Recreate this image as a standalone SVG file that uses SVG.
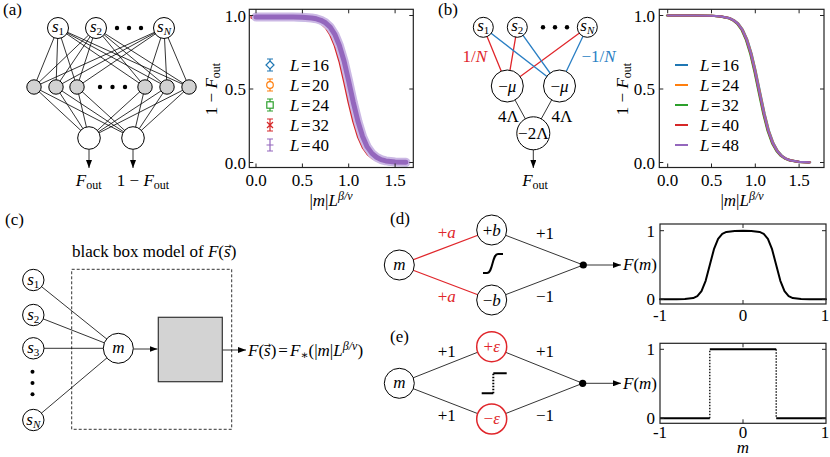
<svg xmlns="http://www.w3.org/2000/svg" xmlns:xlink="http://www.w3.org/1999/xlink" width="830" height="457" viewBox="0 0 830 457">
<style>
text{font-family:"Liberation Serif","DejaVu Serif",serif;font-size:17px;fill:#000}
.i{font-style:italic}
.c{text-anchor:middle}
.en{text-anchor:end}
.n{fill:#fff;stroke:#000;stroke-width:1}
.h{fill:#d2d2d2;stroke:#000;stroke-width:1}
.e{stroke:#000;stroke-width:0.8;fill:none}
.er{stroke:#e0262b;stroke-width:1.3;fill:none}
.eb{stroke:#2a7fc4;stroke-width:1.3;fill:none}
.ax{fill:none;stroke:#222;stroke-width:1.2}
.tk{stroke:#222;stroke-width:1;fill:none}
.red{fill:#e0262b}
.blu{fill:#2a7fc4}
.cv{fill:none;stroke-linejoin:round;stroke-linecap:round}
.vec{font-family:"DejaVu Sans",sans-serif;font-size:9px;text-anchor:middle}
</style>
<defs>
<marker id="ah" viewBox="0 0 8 6" refX="8" refY="3" markerWidth="8" markerHeight="6" markerUnits="userSpaceOnUse" orient="auto">
<path d="M0,0L8,3L0,6z" fill="#000"/>
</marker>
<path id="ca" d="M256,17 L274.5,17 L293.1,17.1 L302.4,17.3 L311.6,18 L316.3,18.8 L320.9,20.3 L325.5,22.8 L330.2,27.1 L334.8,34.3 L339.4,45.5 L344.1,61.3 L348.7,81.2 L353.3,102.4 L358,121.6 L362.6,136.6 L367.2,146.9 L371.9,153.4 L376.5,157.2 L381.1,159.6 L385.8,160.9 L395.1,162 L406,162.3"/>
<path id="cb" d="M667.7,15.5 L694,15.5 L711.5,15.75 L720.3,16.3 L729,18.1 L733.4,20.2 L737.8,23.7 L742.2,29.6 L746.5,39.2 L750.9,53.3 L755.3,72.1 L759.7,93.3 L764.1,114 L768.4,130.9 L772.8,143.1 L777.2,151 L781.6,155.9 L786,158.8 L790.3,160.4 L799.1,161.8 L809.6,162.3"/>
</defs>

<!-- panel labels -->
<text x="3" y="14.5">(a)</text>
<text x="438" y="15">(b)</text>
<text x="5" y="225">(c)</text>
<text x="390" y="223.5">(d)</text>
<text x="390" y="342">(e)</text>

<!-- ===== (a) network ===== -->
<g id="connectors-a">
<path class="e" d="M58,28L34,87M58,28L56,87M58,28L77,87M58,28L145,87M58,28L167,87M58,28L189,87
M96,28L34,87M96,28L56,87M96,28L77,87M96,28L145,87M96,28L167,87M96,28L189,87
M164,28L34,87M164,28L56,87M164,28L77,87M164,28L145,87M164,28L167,87M164,28L189,87
M34,87L89,138M34,87L133,138M56,87L89,138M56,87L133,138M77,87L89,138M77,87L133,138
M145,87L89,138M145,87L133,138M167,87L89,138M167,87L133,138M189,87L89,138M189,87L133,138"/>
<path class="e" stroke-width="1" d="M89,149.5V168" marker-end="url(#ah)"/>
<path class="e" stroke-width="1" d="M133,149.5V168" marker-end="url(#ah)"/>
</g>
<g id="a-s1"><circle class="n" cx="58" cy="28" r="10.5"/><text x="58" y="32" class="c"><tspan class="i">s</tspan><tspan font-size="11" dy="3">1</tspan></text></g>
<g id="a-s2"><circle class="n" cx="96" cy="28" r="10.5"/><text x="96" y="32" class="c"><tspan class="i">s</tspan><tspan font-size="11" dy="3">2</tspan></text></g>
<g id="a-dots"><circle cx="117" cy="28" r="2.2"/><circle cx="129" cy="28" r="2.2"/><circle cx="141" cy="28" r="2.2"/></g>
<g id="a-sN"><circle class="n" cx="164" cy="28" r="10.5"/><text x="164" y="32" class="c"><tspan class="i">s</tspan><tspan class="i" font-size="11" dy="3">N</tspan></text></g>
<g id="a-hidden">
<circle class="h" cx="34" cy="87" r="7.2"/><circle class="h" cx="56" cy="87" r="7.2"/><circle class="h" cx="77" cy="87" r="7.2"/>
<circle cx="100" cy="87" r="2.2"/><circle cx="112.5" cy="87" r="2.2"/><circle cx="125" cy="87" r="2.2"/>
<circle class="h" cx="145" cy="87" r="7.2"/><circle class="h" cx="167" cy="87" r="7.2"/><circle class="h" cx="189" cy="87" r="7.2"/>
</g>
<g id="a-out1"><circle class="n" cx="89" cy="138" r="11.3"/></g>
<g id="a-out2"><circle class="n" cx="133" cy="138" r="11.3"/></g>
<text x="88.7" y="186" class="c"><tspan class="i">F</tspan><tspan font-size="12" dy="3">out</tspan></text>
<text x="143" y="186" class="c">1 − <tspan class="i">F</tspan><tspan font-size="12" dy="3">out</tspan></text>

<!-- ===== (a) plot ===== -->
<g id="plot-a">
<use xlink:href="#ca" class="cv" stroke="#1f77b4" stroke-width="4" transform="translate(1,2)"/>
<use xlink:href="#ca" class="cv" stroke="#ff7f0e" stroke-width="4" transform="translate(1.5,1)"/>
<use xlink:href="#ca" class="cv" stroke="#2ca02c" stroke-width="4.5" transform="translate(-1.5,0.5)"/>
<use xlink:href="#ca" class="cv" stroke="#d62728" stroke-width="4.5" transform="translate(-3.5,0)"/>
<use xlink:href="#ca" class="cv" stroke="#cbb8e4" stroke-width="9"/>
<use xlink:href="#ca" class="cv" stroke="#9467bd" stroke-width="5"/>
<rect class="ax" x="249.3" y="9.3" width="164" height="158.2"/>
<path class="tk" d="M256,167.5v-4M302.4,167.5v-4M348.7,167.5v-4M395.1,167.5v-4M256,9.3v4M302.4,9.3v4M348.7,9.3v4M395.1,9.3v4M249.3,15.5h4M249.3,89h4M249.3,162.5h4M413.3,15.5h-4M413.3,89h-4M413.3,162.5h-4"/>
<text x="246" y="21.5" class="en">1.0</text>
<text x="246" y="95" class="en">0.5</text>
<text x="246" y="168.5" class="en">0.0</text>
<text x="256" y="186" class="c">0.0</text>
<text x="302.4" y="186" class="c">0.5</text>
<text x="348.7" y="186" class="c">1.0</text>
<text x="395.1" y="186" class="c">1.5</text>
<text x="331" y="205.5" class="c">|<tspan class="i">m</tspan>|<tspan class="i">L</tspan><tspan class="i" font-size="12" dy="-6">β/ν</tspan></text>
<text transform="translate(216.5,89) rotate(-90)" class="c">1 − <tspan class="i">F</tspan><tspan font-size="12" dy="3">out</tspan></text>
<!-- legend -->
<g fill="none" stroke-width="1.2">
<g stroke="#1f77b4"><path d="M270,59V71M267,59h6M267,71h6"/><path d="M270,61L274,65L270,69L266,65z" fill="#fff"/></g>
<g stroke="#ff7f0e"><path d="M270,79V91M267,79h6M267,91h6"/><circle cx="270" cy="85" r="3.3" fill="#fff"/></g>
<g stroke="#2ca02c"><path d="M270,99V111M267,99h6M267,111h6"/><rect x="266.8" y="101.8" width="6.4" height="6.4" fill="#fff"/></g>
<g stroke="#d62728"><path d="M270,119V131M267,119h6M267,131h6M267,122l6,6M273,122l-6,6"/></g>
<g stroke="#9467bd"><path d="M270,139V151M267,139h6M267,151h6M266.5,145h7"/></g>
</g>
<text x="290" y="71"><tspan class="i">L</tspan><tspan dx="1.5">=</tspan><tspan dx="1.5">16</tspan></text>
<text x="290" y="91"><tspan class="i">L</tspan><tspan dx="1.5">=</tspan><tspan dx="1.5">20</tspan></text>
<text x="290" y="111"><tspan class="i">L</tspan><tspan dx="1.5">=</tspan><tspan dx="1.5">24</tspan></text>
<text x="290" y="131"><tspan class="i">L</tspan><tspan dx="1.5">=</tspan><tspan dx="1.5">32</tspan></text>
<text x="290" y="151"><tspan class="i">L</tspan><tspan dx="1.5">=</tspan><tspan dx="1.5">40</tspan></text>
</g>

<!-- ===== (b) network ===== -->
<g id="connectors-b">
<path class="er" d="M483.3,27.3L507.3,86M517.3,27.3L507.3,86M587.3,27.3L507.3,86"/>
<path class="eb" d="M483.3,27.3L559.3,86M517.3,27.3L559.3,86M587.3,27.3L559.3,86"/>
<path class="e" stroke-width="1" d="M507.3,86L533.3,133.3M559.3,86L533.3,133.3"/>
<path class="e" stroke-width="1" d="M533.3,150V168" marker-end="url(#ah)"/>
</g>
<g id="b-s1"><circle class="n" cx="483.3" cy="27.3" r="10"/><text x="483.3" y="31.3" class="c"><tspan class="i">s</tspan><tspan font-size="11" dy="3">1</tspan></text></g>
<g id="b-s2"><circle class="n" cx="517.3" cy="27.3" r="10"/><text x="517.3" y="31.3" class="c"><tspan class="i">s</tspan><tspan font-size="11" dy="3">2</tspan></text></g>
<g id="b-dots"><circle cx="543" cy="27.3" r="2.2"/><circle cx="555" cy="27.3" r="2.2"/><circle cx="567" cy="27.3" r="2.2"/></g>
<g id="b-sN"><circle class="n" cx="587.3" cy="27.3" r="10"/><text x="587.3" y="31.3" class="c"><tspan class="i">s</tspan><tspan class="i" font-size="11" dy="3">N</tspan></text></g>
<g id="b-mu1"><circle class="n" cx="507.3" cy="86" r="16"/><text x="507.3" y="91.5" class="c">−<tspan class="i">μ</tspan></text></g>
<g id="b-mu2"><circle class="n" cx="559.5" cy="86" r="16"/><text x="559.5" y="91.5" class="c">−<tspan class="i">μ</tspan></text></g>
<g id="b-out"><circle class="n" cx="533.3" cy="133.3" r="16.5"/><text x="533.3" y="139" class="c">−2Λ</text></g>
<text x="487" y="61.5" class="en red">1/<tspan class="i">N</tspan></text>
<text x="581.5" y="61.5" class="blu">−1/<tspan class="i">N</tspan></text>
<text x="508.5" y="121.5" class="c">4Λ</text>
<text x="562" y="121.5" class="c">4Λ</text>
<text x="535" y="186" class="c"><tspan class="i">F</tspan><tspan font-size="12" dy="3">out</tspan></text>

<!-- ===== (b) plot ===== -->
<g id="plot-b">
<use xlink:href="#cb" class="cv" stroke="#1f77b4" stroke-width="2.2" transform="translate(0.6,0)"/>
<use xlink:href="#cb" class="cv" stroke="#ff7f0e" stroke-width="2.2" transform="translate(0.3,0)"/>
<use xlink:href="#cb" class="cv" stroke="#2ca02c" stroke-width="2.2" transform="translate(-0.8,0)"/>
<use xlink:href="#cb" class="cv" stroke="#d62728" stroke-width="2.2" transform="translate(-0.3,0)"/>
<use xlink:href="#cb" class="cv" stroke="#9467bd" stroke-width="2.2"/>
<rect class="ax" x="659.3" y="9.3" width="164.7" height="158.2"/>
<path class="tk" d="M667.7,167.5v-4M711.5,167.5v-4M755.3,167.5v-4M799.1,167.5v-4M667.7,9.3v4M711.5,9.3v4M755.3,9.3v4M799.1,9.3v4M659.3,15.5h4M659.3,89h4M659.3,162.5h4M824,15.5h-4M824,89h-4M824,162.5h-4"/>
<text x="655" y="21.5" class="en">1.0</text>
<text x="655" y="95" class="en">0.5</text>
<text x="655" y="168.5" class="en">0.0</text>
<text x="667.7" y="186" class="c">0.0</text>
<text x="711.5" y="186" class="c">0.5</text>
<text x="755.3" y="186" class="c">1.0</text>
<text x="799.1" y="186" class="c">1.5</text>
<text x="742" y="205.5" class="c">|<tspan class="i">m</tspan>|<tspan class="i">L</tspan><tspan class="i" font-size="12" dy="-6">β/ν</tspan></text>
<text transform="translate(628,89) rotate(-90)" class="c">1 − <tspan class="i">F</tspan><tspan font-size="12" dy="3">out</tspan></text>
<g stroke-width="2">
<path d="M675,65h13" stroke="#1f77b4"/>
<path d="M675,85h13" stroke="#ff7f0e"/>
<path d="M675,105h13" stroke="#2ca02c"/>
<path d="M675,125h13" stroke="#d62728"/>
<path d="M675,145h13" stroke="#9467bd"/>
</g>
<text x="700" y="71"><tspan class="i">L</tspan><tspan dx="1.5">=</tspan><tspan dx="1.5">16</tspan></text>
<text x="700" y="91"><tspan class="i">L</tspan><tspan dx="1.5">=</tspan><tspan dx="1.5">24</tspan></text>
<text x="700" y="111"><tspan class="i">L</tspan><tspan dx="1.5">=</tspan><tspan dx="1.5">32</tspan></text>
<text x="700" y="131"><tspan class="i">L</tspan><tspan dx="1.5">=</tspan><tspan dx="1.5">40</tspan></text>
<text x="700" y="151"><tspan class="i">L</tspan><tspan dx="1.5">=</tspan><tspan dx="1.5">48</tspan></text>
</g>

<!-- ===== (c) ===== -->
<text x="72" y="257">black box model of <tspan class="i">F</tspan>(<tspan class="i">s</tspan>)</text>
<text x="228" y="248.5" class="vec">→</text>
<rect id="c-box" x="71.7" y="269.3" width="160" height="160" fill="none" stroke="#333" stroke-width="1" stroke-dasharray="3,2"/>
<g id="connectors-c">
<path class="e" d="M33.3,280L118.3,348.3M33.3,315L118.3,348.3M33.3,348.3L118.3,348.3M33.3,420L118.3,348.3"/>
<path class="e" stroke-width="1" d="M133.3,349H157.5" marker-end="url(#ah)"/>
<path class="e" stroke-width="1" d="M222.3,350H246" marker-end="url(#ah)"/>
</g>
<g id="c-s1"><circle class="n" cx="33.3" cy="280" r="10.7"/><text x="33.3" y="284.5" class="c"><tspan class="i">s</tspan><tspan font-size="11" dy="3">1</tspan></text></g>
<g id="c-s2"><circle class="n" cx="33.3" cy="315" r="10.7"/><text x="33.3" y="319.5" class="c"><tspan class="i">s</tspan><tspan font-size="11" dy="3">2</tspan></text></g>
<g id="c-s3"><circle class="n" cx="33.3" cy="348.3" r="10.7"/><text x="33.3" y="352.8" class="c"><tspan class="i">s</tspan><tspan font-size="11" dy="3">3</tspan></text></g>
<g id="c-dots"><circle cx="32.5" cy="371.7" r="2"/><circle cx="32.5" cy="383" r="2"/><circle cx="32.5" cy="394.3" r="2"/></g>
<g id="c-sN"><circle class="n" cx="33.3" cy="420" r="10.7"/><text x="33.3" y="424.5" class="c"><tspan class="i">s</tspan><tspan class="i" font-size="11" dy="3">N</tspan></text></g>
<g id="c-m"><circle class="n" cx="118.3" cy="348.3" r="15"/><text x="118.3" y="353" class="c i">m</text></g>
<g id="c-black"><rect x="158.3" y="317.3" width="64" height="64.4" fill="#d3d3d3" stroke="#333" stroke-width="1.2"/></g>
<text x="248" y="356"><tspan class="i">F</tspan>(<tspan class="i">s</tspan>)<tspan dx="2">=</tspan><tspan class="i" dx="2">F</tspan><tspan font-size="12" dy="3">∗</tspan><tspan dy="-3">(|</tspan><tspan class="i">m</tspan>|<tspan class="i">L</tspan><tspan class="i" font-size="12" dy="-6">β/ν</tspan><tspan dy="6">)</tspan></text>
<text x="267.5" y="347.5" class="vec">→</text>

<!-- ===== (d) ===== -->
<g id="connectors-d">
<path class="er" stroke-width="1.6" d="M399.3,265L491.7,230M399.3,265L491.7,300"/>
<path class="e" stroke-width="1" d="M491.7,230L583.3,265M491.7,300L583.3,265"/>
<path class="e" stroke-width="1" d="M583.3,265H621" marker-end="url(#ah)"/>
</g>
<g id="d-m"><circle class="n" cx="399.3" cy="265" r="15"/><text x="399.3" y="269.5" class="c i">m</text></g>
<g id="d-pb"><circle class="n" cx="491.7" cy="230" r="15"/><text x="491.7" y="235.5" class="c">+<tspan class="i">b</tspan></text></g>
<g id="d-mb"><circle class="n" cx="491.7" cy="300" r="15"/><text x="491.7" y="305.5" class="c">−<tspan class="i">b</tspan></text></g>
<g id="d-dot"><circle cx="583.3" cy="265" r="3.6"/></g>
<path d="M483,273H487C493,273 492,254 498,254H503" fill="none" stroke="#000" stroke-width="2"/>
<text x="446.7" y="237.5" class="c red">+<tspan class="i">a</tspan></text>
<text x="446.7" y="302" class="c red">+<tspan class="i">a</tspan></text>
<text x="545" y="239" class="c">+1</text>
<text x="545" y="302" class="c">−1</text>
<text x="623" y="270"><tspan class="i">F</tspan>(<tspan class="i">m</tspan>)</text>

<!-- (d) plot -->
<g id="plot-d">
<path class="cv" stroke="#000" stroke-width="2" d="M660,299.3L676.6,299.3L684.9,299.1L693.2,298.1L697.35,296.1L701.5,291.1L705.65,280.8L709.8,265L713.95,249.2L718.1,238.9L722.25,233.9L726.4,231.9L734.7,230.9L743,230.7L751.3,230.9L759.6,231.9L763.75,233.9L767.9,238.9L772.05,249.2L776.2,265L780.35,280.8L784.5,291.1L788.65,296.1L792.8,298.1L801.1,299.1L809.4,299.3L826,299.3"/>
<rect class="ax" x="660" y="224" width="166" height="80"/>
<path class="tk" d="M743,224v4M743,304v-4M660,230.7h4M660,299.3h4M826,230.7h-4M826,299.3h-4"/>
<text x="655" y="236.5" class="en">1</text>
<text x="655" y="305" class="en">0</text>
<text x="660" y="321" class="c">-1</text>
<text x="743" y="321" class="c">0</text>
<text x="825" y="321" class="c">1</text>
</g>

<!-- ===== (e) ===== -->
<g id="connectors-e">
<path class="e" stroke-width="1" d="M399.3,383.3L491.7,346.7M399.3,383.3L491.7,419M491.7,346.7L582.7,383.3M491.7,419L582.7,383.3"/>
<path class="e" stroke-width="1" d="M582.7,383.3H621" marker-end="url(#ah)"/>
</g>
<g id="e-m"><circle class="n" cx="399.3" cy="383.3" r="15"/><text x="399.3" y="388" class="c i">m</text></g>
<g id="e-pe"><circle cx="491.7" cy="346.7" r="15" fill="#fff" stroke="#e0262b" stroke-width="1.5"/><text x="491.7" y="352" class="c red">+<tspan class="i">ε</tspan></text></g>
<g id="e-me"><circle cx="491.7" cy="419" r="15" fill="#fff" stroke="#e0262b" stroke-width="1.5"/><text x="491.7" y="424.3" class="c red">−<tspan class="i">ε</tspan></text></g>
<g id="e-dot"><circle cx="582.7" cy="383.3" r="3.6"/></g>
<path d="M481.7,393.3H493.3M493.3,373.3H506.7" fill="none" stroke="#000" stroke-width="2"/>
<path d="M493.3,393.3V373.3" fill="none" stroke="#000" stroke-width="2" stroke-dasharray="1.5,1.5"/>
<text x="446.7" y="357" class="c">+1</text>
<text x="446.7" y="421" class="c">+1</text>
<text x="545" y="357" class="c">+1</text>
<text x="545" y="421" class="c">−1</text>
<text x="623" y="389"><tspan class="i">F</tspan>(<tspan class="i">m</tspan>)</text>

<!-- (e) plot -->
<g id="plot-e">
<path d="M660,418.3H709.8M709.8,349.3H776.2M776.2,418.3H826" fill="none" stroke="#000" stroke-width="2"/>
<path d="M709.8,418.3V349.3M776.2,349.3V418.3" fill="none" stroke="#000" stroke-width="1.3" stroke-dasharray="1.5,1.5"/>
<rect class="ax" x="660" y="343.3" width="166" height="80"/>
<path class="tk" d="M743,343.3v4M743,423.3v-4M660,349.3h4M660,418.3h4M826,349.3h-4M826,418.3h-4"/>
<text x="655" y="355" class="en">1</text>
<text x="655" y="424" class="en">0</text>
<text x="660" y="437.5" class="c">-1</text>
<text x="743" y="437.5" class="c">0</text>
<text x="825" y="437.5" class="c">1</text>
<text x="743" y="453" class="c i">m</text>
</g>
</svg>
